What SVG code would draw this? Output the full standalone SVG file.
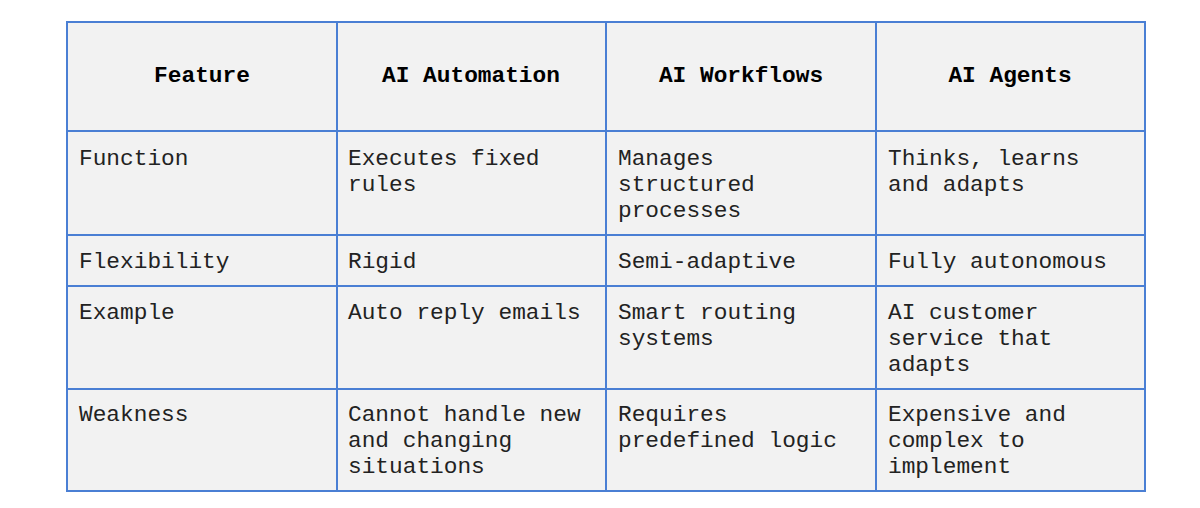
<svg xmlns="http://www.w3.org/2000/svg" width="1200" height="508" viewBox="0 0 1200 508">
<style>
.c{fill:#f2f2f2;stroke:#4a7fd4;stroke-width:2}
text{font-family:"Liberation Mono","Courier New",monospace;font-size:22.8px;fill:#222}
.h{font-weight:bold;text-anchor:middle;fill:#000}
</style>
<rect width="1200" height="508" fill="#fff"/>
<g id="grid">
<rect class="c" x="67" y="22" width="1078" height="469"/>
<path d="M337 22V491M606 22V491M876 22V491M67 131H1145M67 235H1145M67 286H1145M67 389H1145" stroke="#4a7fd4" stroke-width="2" fill="none"/>
</g>
<g id="header">
<text class="h" x="202" y="82">Feature</text>
<text class="h" x="471" y="82">AI Automation</text>
<text class="h" x="741" y="82">AI Workflows</text>
<text class="h" x="1010" y="82">AI Agents</text>
</g>
<g id="row1">
<text x="79" y="165">Function</text>
<text x="348" y="165">Executes fixed<tspan x="348" dy="26">rules</tspan></text>
<text x="618" y="165">Manages<tspan x="618" dy="26">structured</tspan><tspan x="618" dy="26">processes</tspan></text>
<text x="888" y="165">Thinks, learns<tspan x="888" dy="26">and adapts</tspan></text>
</g>
<g id="row2">
<text x="79" y="268">Flexibility</text>
<text x="348" y="268">Rigid</text>
<text x="618" y="268">Semi-adaptive</text>
<text x="888" y="268">Fully autonomous</text>
</g>
<g id="row3">
<text x="79" y="319">Example</text>
<text x="348" y="319">Auto reply emails</text>
<text x="618" y="319">Smart routing<tspan x="618" dy="26">systems</tspan></text>
<text x="888" y="319">AI customer<tspan x="888" dy="26">service that</tspan><tspan x="888" dy="26">adapts</tspan></text>
</g>
<g id="row4">
<text x="79" y="421">Weakness</text>
<text x="348" y="421">Cannot handle new<tspan x="348" dy="26">and changing</tspan><tspan x="348" dy="26">situations</tspan></text>
<text x="618" y="421">Requires<tspan x="618" dy="26">predefined logic</tspan></text>
<text x="888" y="421">Expensive and<tspan x="888" dy="26">complex to</tspan><tspan x="888" dy="26">implement</tspan></text>
</g>
</svg>
